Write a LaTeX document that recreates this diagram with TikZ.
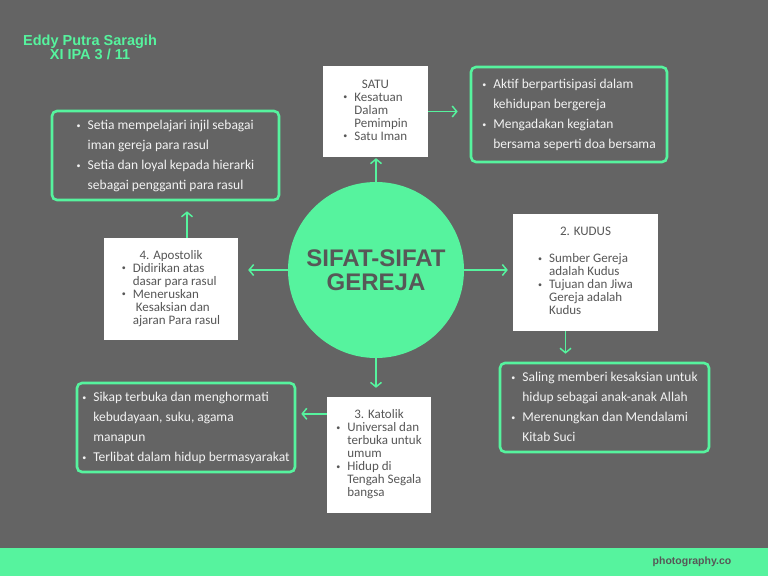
\documentclass[tikz,border=0pt]{standalone}
\usepackage{fontspec}
\setmainfont{Carlito}
\newfontfamily\headfont{Liberation Sans}
\usepackage{xcolor}
\usetikzlibrary{arrows.meta, positioning, calc}

\definecolor{bg}{HTML}{646464}
\definecolor{mint}{HTML}{56F39E}
\definecolor{ink}{HTML}{575757}
\newcommand{\bul}{\makebox[11pt][l]{\raisebox{1.2pt}{\fontsize{8}{8}\selectfont\textbullet}}}
\newcommand{\ind}{\hspace*{11pt}}
\newcommand{\head}[1]{\multicolumn{1}{@{}c@{}}{#1}}
\newcommand{\lines}[1]{\begin{tabular}{@{}l@{}}#1\end{tabular}}

\begin{document}
\begin{tikzpicture}[x=1pt, y=-1pt,
  card/.style={fill=white, inner sep=0pt, text=ink,
               font=\fontsize{13}{13}\selectfont},
  note/.style={draw=mint, line width=2.6pt, rounded corners=5pt, fill=bg,
               inner sep=0pt, text=white!92!bg,
               font=\fontsize{13.5}{20}\selectfont},
  link/.style={mint, line width=1.5pt,
               -{Straight Barb[length=4.5pt, width=11pt]}}]
  \fill[bg] (0,0) rectangle (768,576);
  \fill[mint] (0,548) rectangle (768,576);

  \node[text=mint, align=center, font=\headfont\bfseries\fontsize{14.5}{14}\selectfont]
    (author) at (90,47) {Eddy Putra Saragih\\XI IPA 3 / 11};
  \node[text=ink, font=\headfont\bfseries\fontsize{10.5}{12}\selectfont]
    (brand) at (692,562) {photography.co};

  \node[circle, fill=mint, minimum size=176pt, inner sep=0pt, text=ink,
        align=center, font=\headfont\bfseries\fontsize{24}{24}\selectfont]
    (sifat) at (376,270) {SIFAT-SIFAT\\GEREJA};

  % white cards
  \node[card, minimum width=105pt, minimum height=91pt] (satu) at (375.5,111.5)
    {\lines{\head{SATU}\\ \bul Kesatuan\\ \ind Dalam\\ \ind Pemimpin\\ \bul Satu Iman}};
  \node[card, minimum width=134pt, minimum height=102pt] (apos) at (171,289)
    {\lines{\head{4. Apostolik}\\ \bul Didirikan atas\\ \ind dasar para rasul\\
      \bul Meneruskan\\ \ind\ Kesaksian dan\\ \ind ajaran Para rasul}};
  \node[card, minimum width=145pt, minimum height=117pt] (kudus) at (585.5,272.5)
    {\lines{\head{2. KUDUS}\\[14pt] \bul Sumber Gereja\\ \ind adalah Kudus\\
      \bul Tujuan dan Jiwa\\ \ind Gereja adalah\\ \ind Kudus}};
  \node[card, minimum width=104pt, minimum height=116pt] (katolik) at (379,455)
    {\lines{\head{3. Katolik}\\ \bul Universal dan\\ \ind terbuka untuk\\ \ind umum\\
      \bul Hidup di\\ \ind Tengah Segala\\ \ind bangsa}};

  % green notes
  \node[note, minimum width=196pt, minimum height=95pt] (aktif) at (569,114.5)
    {\lines{\bul Aktif berpartisipasi dalam\\ \ind kehidupan bergereja\\
      \bul Mengadakan kegiatan\\ \ind bersama seperti doa bersama}};
  \node[note, minimum width=227pt, minimum height=89pt] (setia) at (165.5,155.5)
    {\lines{\bul Setia mempelajari injil sebagai\\ \ind iman gereja para rasul\\
      \bul Setia dan loyal kepada hierarki\\ \ind sebagai pengganti para rasul}};
  \node[note, minimum width=209pt, minimum height=89pt] (saling) at (604.5,407.5)
    {\lines{\bul Saling memberi kesaksian untuk\\ \ind hidup sebagai anak-anak Allah\\
      \bul Merenungkan dan Mendalami\\ \ind Kitab Suci}};
  \node[note, minimum width=218pt, minimum height=89pt] (sikap) at (186,427.5)
    {\lines{\bul Sikap terbuka dan menghormati\\ \ind kebudayaan, suku, agama\\
      \ind manapun\\ \bul Terlibat dalam hidup bermasyarakat}};

  % connectors
  \coordinate (aposTop) at ($(apos.north)+(16,0)$);
  \coordinate (kudusBot) at ($(kudus.south)+(-20,0)$);
  \coordinate (katSide) at ($(katolik.north west)+(0,17)$);
  \draw[link, shorten >=1pt] (sifat.north) -- (sifat.north |- satu.south);
  \draw[link, shorten >=12pt] (satu.east) -- (satu.east -| aktif.west);
  \draw[link, shorten >=10pt] (sifat.west) -- (sifat.west -| apos.east);
  \draw[link, shorten >=5pt] (sifat.east) -- (sifat.east -| kudus.west);
  \draw[link, shorten >=9pt] (sifat.south) -- (sifat.south |- katolik.north);
  \draw[link, shorten >=10pt] (aposTop) -- (aposTop |- setia.south);
  \draw[link, shorten >=8pt] (kudusBot) -- (kudusBot |- saling.north);
  \draw[link, shorten >=5pt] (katSide) -- (katSide -| sikap.east);
\end{tikzpicture}
\end{document}
